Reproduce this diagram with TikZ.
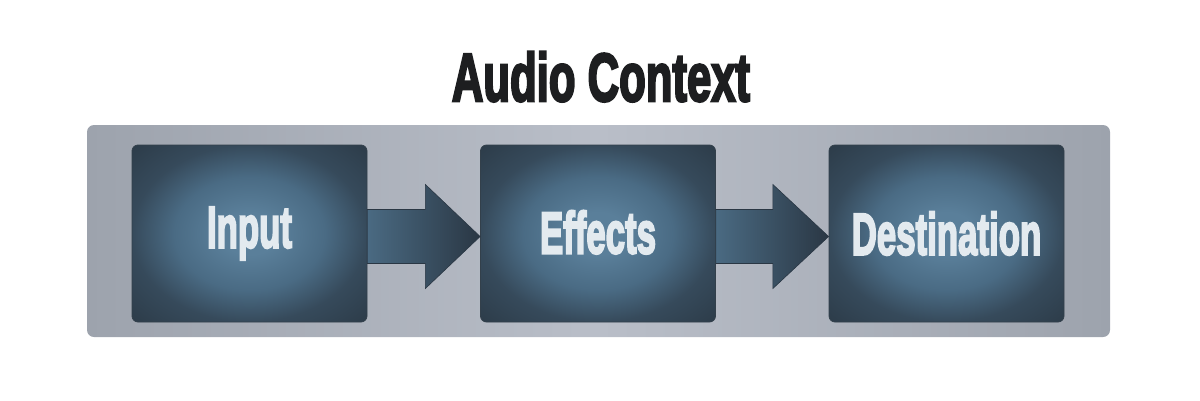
\documentclass[tikz,border=0pt]{standalone}
\usepackage{fontspec}
\newfontfamily\heavyfont{Liberation Sans Bold}[FakeBold=4]
\newfontfamily\titlefont{Liberation Sans Bold}[FakeBold=4]
\usetikzlibrary{calc}
\definecolor{boxin}{HTML}{5A7F9A}
\definecolor{boxmid}{HTML}{4A6B84}
\definecolor{boxedge}{HTML}{364A5B}
\definecolor{boxout}{HTML}{2C3B48}
\definecolor{boxline}{HTML}{33404B}
\definecolor{arrowmid}{HTML}{4A6A82}
\definecolor{arrowdark}{HTML}{2A3744}
\definecolor{panelside}{HTML}{9DA3AD}
\definecolor{panelmid}{HTML}{B9BEC8}
\definecolor{labeltext}{HTML}{E3EAEF}
\definecolor{titletext}{HTML}{1D1E20}
\pgfdeclareradialshading{boxshade}{\pgfpoint{0bp}{0bp}}{color(0bp)=(boxin); color(6bp)=(boxin); color(16bp)=(boxmid); color(25bp)=(boxedge); color(36bp)=(boxout); color(50bp)=(boxout)}
\tikzset{
  panel/.style={rounded corners=7pt, left color=panelside, right color=panelside, middle color=panelmid, minimum width=1023pt, minimum height=212pt, inner sep=0pt},
  stagebox/.style={rounded corners=6pt, shading=boxshade, draw=boxline, line width=0.8pt, minimum width=235pt, minimum height=177pt, inner sep=0pt, text=labeltext, font=\heavyfont\fontsize{59}{59}\selectfont},
  flowarrow/.style={left color=arrowmid, right color=arrowdark, draw=arrowdark, line width=0.6pt},
  titlestyle/.style={text=titletext, font=\titlefont\fontsize{68}{68}\selectfont, inner sep=0pt}
}
\begin{document}
\begin{tikzpicture}[x=1pt,y=-1pt]
\useasboundingbox (0,0) rectangle (1200,400);
\node[titlestyle, anchor=base] (title) at (601,101) {\scalebox{0.642}[1]{Audio Context}};
\node[panel] (ctx) at (598.5,231) {};
\node[stagebox] (in) at (249.5,233.5) {\scalebox{0.59}[1]{Input}};
\node[stagebox] (fx) at (598,233.5) {\raisebox{3pt}{\scalebox{0.59}[1]{Effects}}};
\node[stagebox] (dst) at (946.5,233.5) {\scalebox{0.59}[1]{Destination}};
\shade[flowarrow] ($(in.east)+(0,-24)$) -- ($(in.east)+(58,-24)$) -- ($(in.east)+(58,-49)$)
  -- ($(fx.west)+(0,3)$) -- ($(in.east)+(58,55)$) -- ($(in.east)+(58,30)$) -- ($(in.east)+(0,30)$) -- cycle;
\shade[flowarrow] ($(fx.east)+(0,-24)$) -- ($(fx.east)+(57,-24)$) -- ($(fx.east)+(57,-49)$)
  -- ($(dst.west)+(0,3)$) -- ($(fx.east)+(57,55)$) -- ($(fx.east)+(57,30)$) -- ($(fx.east)+(0,30)$) -- cycle;
\end{tikzpicture}
\end{document}
